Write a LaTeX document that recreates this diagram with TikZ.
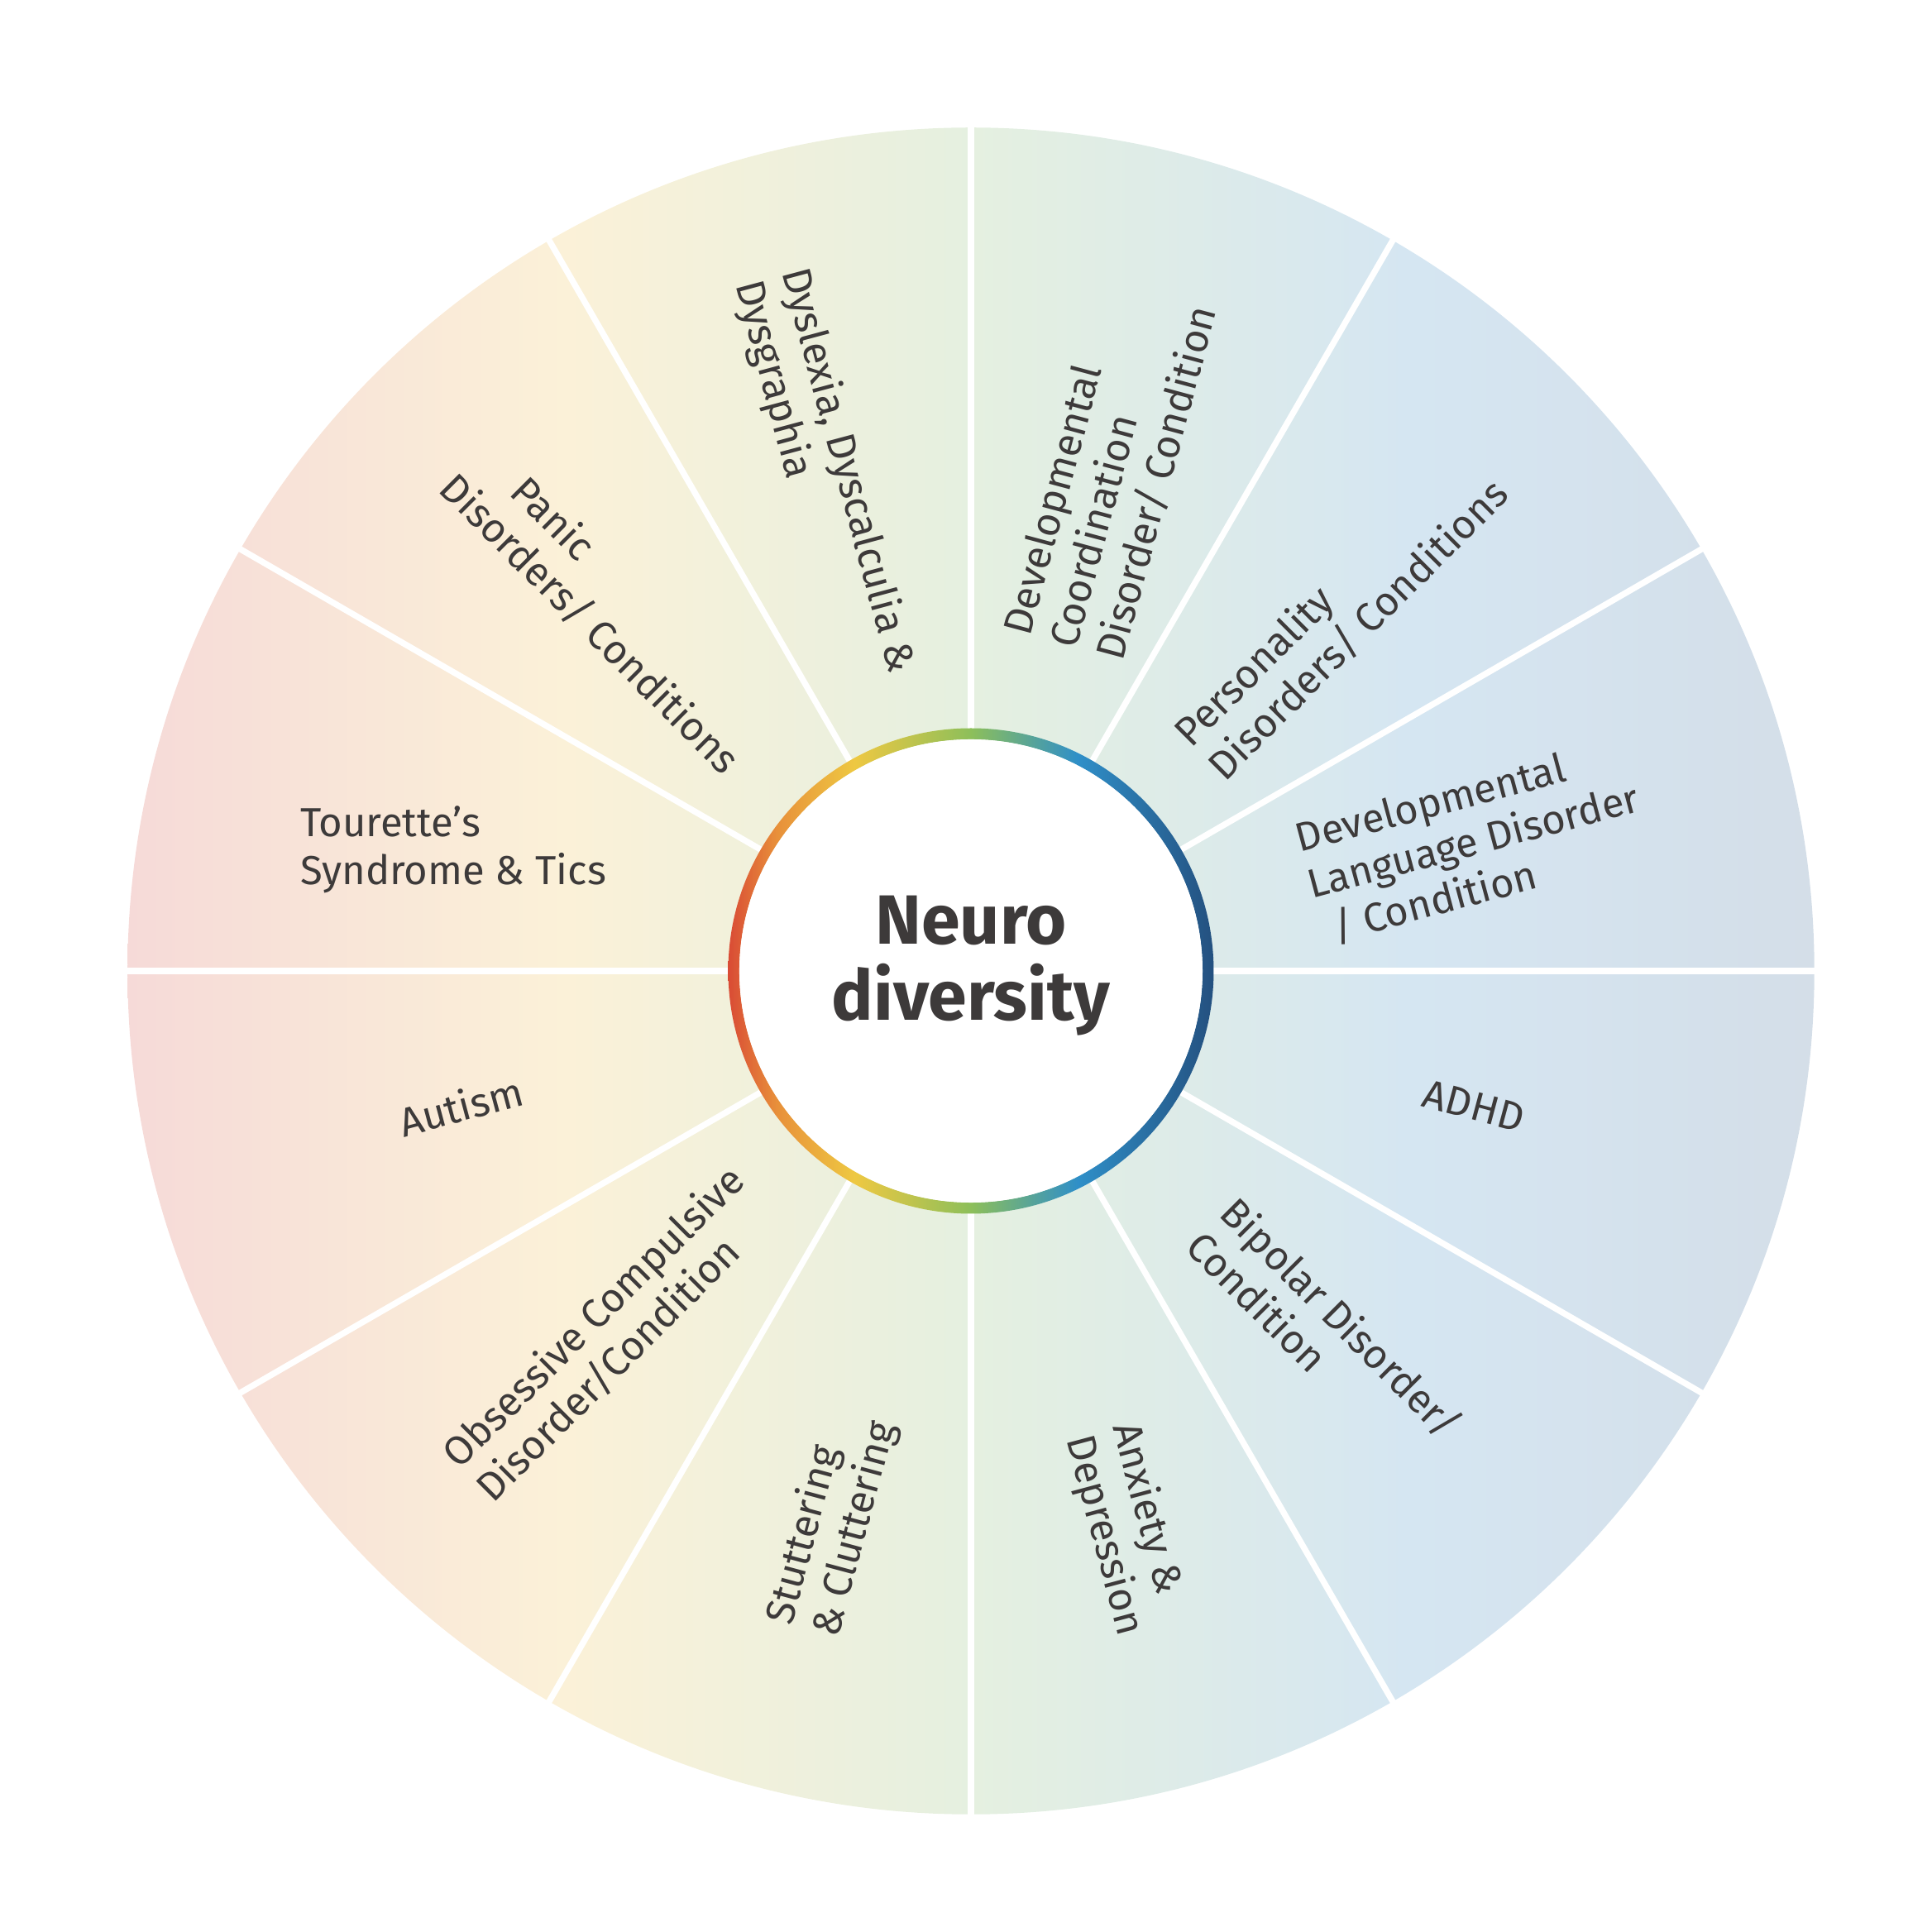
\documentclass[tikz,border=0pt]{standalone}
\usepackage{fontspec}
\setmainfont{Fira Sans}
\definecolor{cpink}{HTML}{F6DAD8}
\definecolor{cyel}{HTML}{FBF1D8}
\definecolor{cgrn}{HTML}{E5F0E0}
\definecolor{cblu}{HTML}{D5E6F2}
\definecolor{cgb}{HTML}{D4DEE8}
\definecolor{rred}{HTML}{D94B35}
\definecolor{rora}{HTML}{E8903A}
\definecolor{ryel}{HTML}{EEC842}
\definecolor{rgrn}{HTML}{8DBF5A}
\definecolor{rblu}{HTML}{2F8FC8}
\definecolor{rdb}{HTML}{24507F}
\definecolor{txt}{HTML}{3D3A3A}
\pgfdeclarehorizontalshading{bgshade}{100bp}{color(0bp)=(cpink); color(25bp)=(cpink); color(38bp)=(cyel); color(50bp)=(cgrn); color(63bp)=(cblu); color(75bp)=(cgb); color(100bp)=(cgb)}
\pgfdeclarehorizontalshading{ringshade}{100bp}{color(0bp)=(rred); color(25bp)=(rred); color(30bp)=(rora); color(38bp)=(ryel); color(50bp)=(rgrn); color(61bp)=(rblu); color(75bp)=(rdb); color(100bp)=(rdb)}
\tikzset{lab/.style={text=txt, font=\fontsize{9.3}{11}\selectfont, align=left, inner sep=0pt},
sep/.style={white, line width=1.4pt}}
\begin{document}
\begin{tikzpicture}[x=0.01cm,y=0.01cm]
\useasboundingbox (-784,-776) rectangle (776,784);
\shade[shading=bgshade] (0,0) circle (681);
\foreach \a in {0,30,...,330} \draw[sep] (\a:180) -- (\a:690);
\shade[shading=ringshade, even odd rule] (0,0) circle (196) (0,0) circle (187);
\fill[white] (0,0) circle (187);
\node[text=txt, font=\bfseries\fontsize{16}{17.5}\selectfont, align=center] (c) at (0,4) {Neuro\\diversity};
\node[lab, rotate=-15] (adhd) at (406,-109) {ADHD};
\node[lab, rotate=15] (dld) at (406,104) {Developmental\\Language Disorder\\\hspace*{0.3em}/ Condition};
\node[lab, rotate=45] (pers) at (299,289) {Personality\\Disorders/ Conditions};
\node[lab, rotate=75] (dcd) at (113,404) {Developmental\\Coordination\\Disorder/ Condition};
\node[lab, rotate=-75] (dys) at (-119,399) {Dyslexia, Dyscalculia \&\\Dysgraphia};
\node[lab, rotate=-45] (pan) at (-294,294) {\hspace*{1.3em}Panic\\Disorders/ Conditions};
\node[lab] (tou) at (-418,98) {Tourette{\char"27}s\\Syndrome \& Tics};
\node[lab, rotate=15] (aut) at (-412,-109) {Autism};
\node[lab, rotate=45] (ocd) at (-291,-293) {Obsessive Compulsive\\Disorder/Condition};
\node[lab, rotate=75] (stu) at (-112,-446) {Stuttering\\\& Cluttering};
\node[lab, rotate=-75] (anx) at (126,-451) {Anxiety \&\\Depression};
\node[lab, rotate=-45] (bip) at (286,-293) {Bipolar Disorder/\\Condition};
\end{tikzpicture}
\end{document}
